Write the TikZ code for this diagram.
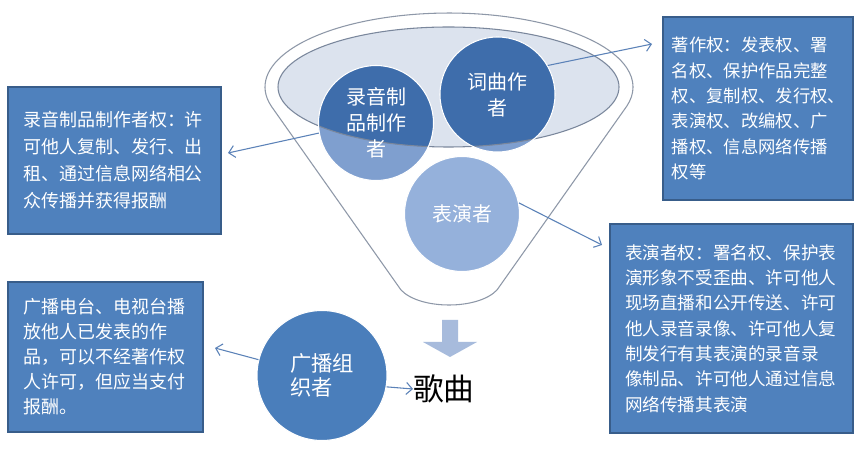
\documentclass[tikz,border=0pt]{standalone}
\usepackage{fontspec}
\newfontfamily\cjk{Noto Sans CJK SC}
\usetikzlibrary{arrows.meta}
\definecolor{boxblue}{HTML}{4F81BD}
\definecolor{boxedge}{HTML}{385D8A}
\definecolor{darkc}{HTML}{3E6DAB}
\definecolor{lightc}{HTML}{7F9FCF}
\definecolor{perfc}{HTML}{95B1DB}
\definecolor{bcc}{HTML}{4A7EBB}
\definecolor{ellfill}{HTML}{DCE3EE}
\definecolor{ellline}{HTML}{7A879C}
\definecolor{funline}{HTML}{8E98A8}
\definecolor{arrowc}{HTML}{A7BBDC}
\definecolor{linkc}{HTML}{5B82B8}
\begin{document}
\begin{tikzpicture}[x=0.75pt,y=0.75pt,
  infobox/.style={rectangle, fill=boxblue, draw=boxedge, line width=1.5pt, text=white, align=left},
  circ/.style={circle, inner sep=0pt, minimum size=86.25pt, draw=white, line width=0.8pt, text=white, align=center, font=\cjk\fontsize{15}{19.5}\selectfont},
  link/.style={draw=linkc, line width=0.8pt, -{Straight Barb[length=4.5pt,width=9pt]}}]
\useasboundingbox (0,0) rectangle (865,450);
\fill[white] (0,0) rectangle (865,450);
% funnel
\draw[funline, fill=white, line width=0.8pt]
  (271.3,343.8) arc[start angle=195, end angle=-15, x radius=184, y radius=74]
  -- (497,160) .. controls (478,140) and (420,140) .. (401,160) -- cycle;
\fill[ellfill] (448.5,363) ellipse[x radius=170.5, y radius=60];
% circle bodies
\fill[lightc] (376,327) circle[radius=57.5];
\fill[lightc] (497.5,355.5) circle[radius=57.5];
\begin{scope}
  \clip (448.5,363) ellipse[x radius=170.5, y radius=60];
  \fill[darkc] (376,327) circle[radius=57.5];
  \fill[darkc] (497.5,355.5) circle[radius=57.5];
\end{scope}
\draw[ellline, line width=0.8pt] (448.5,363) ellipse[x radius=170.5, y radius=60];
% circle nodes
\node[circ] (rec) at (376,327) {录音制\\品制作\\者};
\node[circ] (lyr) at (497.5,355.5) {词曲作\\者};
\node[circ, fill=perfc] (perf) at (462,236) {表演者};
\node[circ, fill=bcc, minimum size=97.5pt, align=left, font=\cjk\fontsize{16}{17.5}\selectfont] (bc) at (322,74.5) {广播组\\织者};
% down arrow
\fill[arrowc] (442,130) -- (458,130) -- (458,108) -- (477,108) -- (450,93) -- (423,108) -- (442,108) -- cycle;
% song
\node[anchor=west, inner sep=0pt, font=\cjk\fontsize{23}{23}\selectfont] (song) at (413,61) {歌曲};
% boxes
\node[infobox, minimum height=110.25pt, inner xsep=11.25pt, text width=137.25pt, font=\cjk\fontsize{13.5}{20.25}\selectfont] (recbox) at (114.5,289.5)
  {录音制品制作者权：许\\可他人复制、发行、出\\租、通过信息网络相公\\众传播并获得报酬};
\node[infobox, minimum height=137.25pt, inner xsep=6.5pt, text width=129.5pt, font=\cjk\fontsize{13}{19}\selectfont] (copybox) at (758,341.5)
  {著作权：发表权、署\\名权、保护作品完整\\权、复制权、发行权、\\表演权、改编权、广\\播权、信息网络传播\\权等};
\node[infobox, minimum height=156.75pt, inner xsep=11.25pt, text width=159.75pt, font=\cjk\fontsize{13.2}{19}\selectfont] (perfbox) at (731.5,121.5)
  {表演者权：署名权、保护表\\演形象不受歪曲、许可他人\\现场直播和公开传送、许可\\他人录音录像、许可他人复\\制发行有其表演的录音录\\像制品、许可他人通过信息\\网络传播其表演};
\node[infobox, minimum height=112.5pt, inner xsep=11.25pt, text width=123.75pt, font=\cjk\fontsize{13.5}{18.75}\selectfont] (bcbox) at (105.5,93)
  {广播电台、电视台播\\放他人已发表的作\\品，可以不经著作权\\人许可，但应当支付\\报酬。};
% connector ends
\coordinate (t1) at (228,297);
\coordinate (t2) at (652,406);
\coordinate (t3) at (602,205);
\coordinate (t4) at (215,102);
\draw[link] (rec.190) -- (t1);
\draw[link] (lyr.30) -- (t2);
\draw[link] (perf.11) -- (t3);
\draw[link] (bc.166) -- (t4);
\draw[link] (bc.-10) -- (song.west);
\end{tikzpicture}
\end{document}
